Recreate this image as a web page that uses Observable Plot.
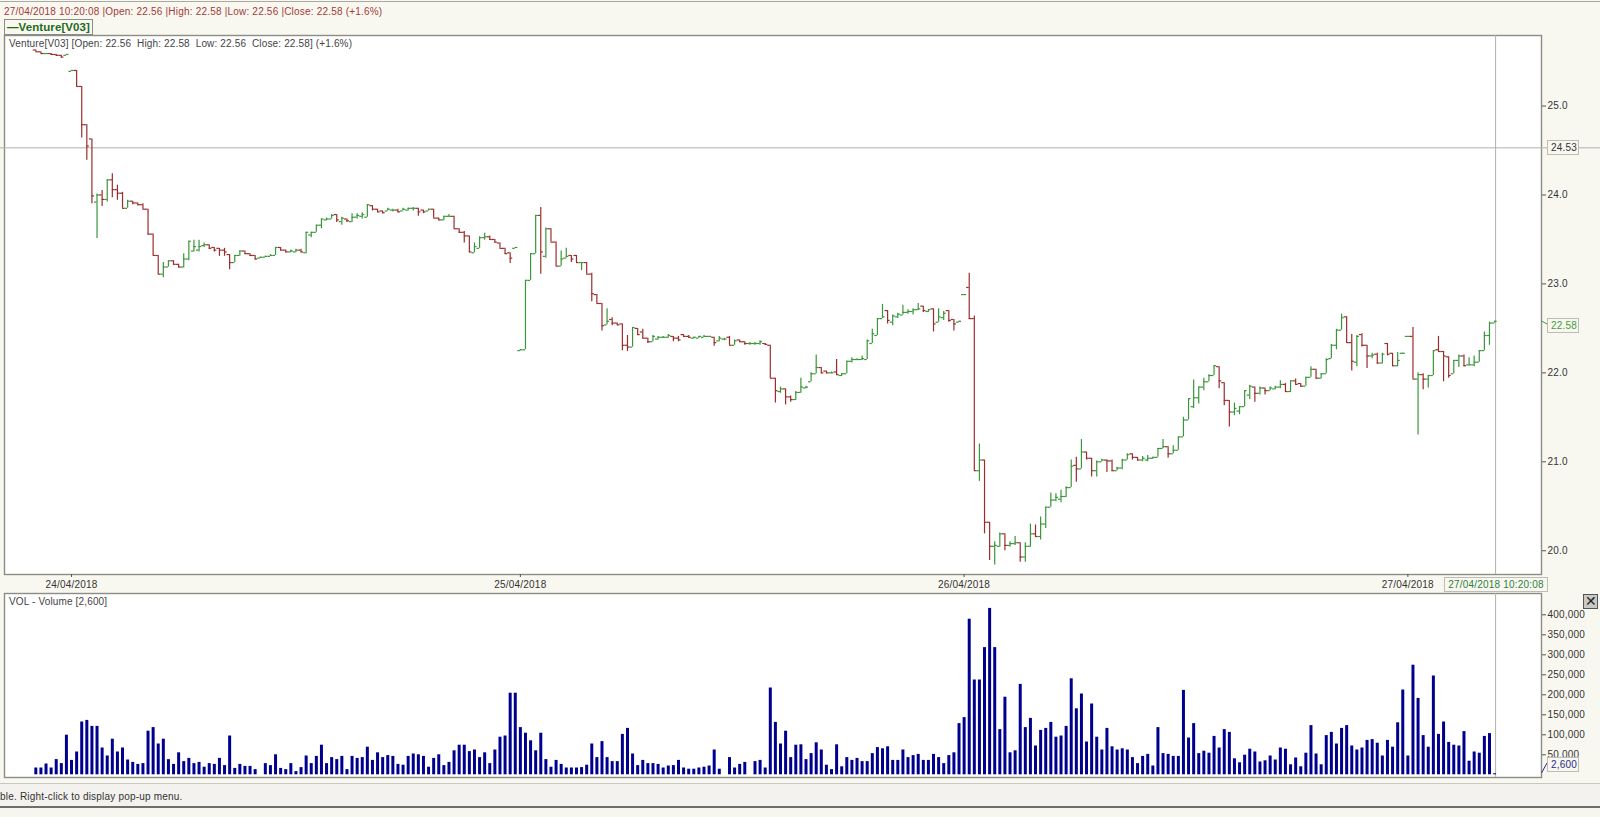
<!DOCTYPE html>
<html>
<head>
<meta charset="utf-8">
<script src="https://cdn.jsdelivr.net/npm/d3@7"></script>
<script src="https://cdn.jsdelivr.net/npm/@observablehq/plot@0.6"></script>
<style>
html,body{margin:0;padding:0;background:#f9f8f0;overflow:hidden}
#page{position:relative;width:1600px;height:817px;font-family:"Liberation Sans",Arial,sans-serif;font-size:10px;letter-spacing:.2px;color:#333}
#page>div{position:absolute;white-space:nowrap;line-height:13px}
.chart{overflow:visible}
.box{background:#f9f8f0;border:1px solid #bdbdb5;padding:0 3px;height:13px;text-align:center;box-sizing:content-box}
</style>
</head>
<body>
<div id="page">
  <div style="left:0;top:1px;width:1600px;height:0;border-top:1px solid #a9a9a1"></div>
  <div style="left:4px;top:5px;color:#a23a3a">27/04/2018 10:20:08 |Open: 22.56 |High: 22.58 |Low: 22.56 |Close: 22.58 (+1.6%)</div>
  <div style="left:4px;top:19px;width:87px;height:14px;border:1px solid #8d8d87;font-weight:bold;color:#1e6b1e;font-size:11.5px;line-height:14px;text-align:center;letter-spacing:.1px">—Venture[V03]</div>
  <div class="chart" id="price" style="left:0;top:35px"></div>
  <div class="chart" id="volume" style="left:0;top:593px"></div>
  <div style="left:9px;top:37px;letter-spacing:.15px;color:#444">Venture[V03] [Open: 22.56&nbsp; High: 22.58&nbsp; Low: 22.56&nbsp; Close: 22.58] (+1.6%)</div>
  <div style="left:9px;top:595px;letter-spacing:.15px;color:#444">VOL - Volume [2,600]</div>
  <svg style="position:absolute;left:0;top:0;pointer-events:none" width="1600" height="817">
    <line x1="1541.5" y1="321" x2="1547" y2="324" stroke="#3f9a3f"/>
    <line x1="1541.5" y1="773" x2="1547" y2="763" stroke="#2a2a8a"/>
  </svg>
  <div class="box" style="left:1547px;top:140px;width:24px;color:#333">24.53</div>
  <div class="box" style="left:1547px;top:318px;width:24px;color:#3f9a3f">22.58</div>
  <div class="box" style="left:1444px;top:577px;width:96px;color:#2f7f3f">27/04/2018 10:20:08</div>
  <div class="box" style="left:1547px;top:757px;width:24px;color:#2a2a8a">2,600</div>
  <div style="left:1583px;top:594px;width:13px;height:13px;background:#c9c9c5;border:1px solid #555;text-align:center;line-height:12px;font-size:14px;letter-spacing:0;color:#222">✕</div>
  <div style="left:0;top:783px;width:1600px;height:22px;background:#f3f2ee;border-top:1px solid #c8c8c2;border-bottom:2px solid #6e6e6a;line-height:25px;color:#333;overflow:hidden">ble. Right-click to display pop-up menu.</div>
  <div style="left:0;top:808px;width:1600px;height:9px;background:#f6f5ef"></div>
</div>
<script>
const highs = [
25.63,25.61,25.59,25.59,25.58,25.57,25.58,25.40,25.40,25.22,
24.79,24.63,24.01,24.05,24.17,24.24,24.11,24.03,23.94,23.93,
23.91,23.90,23.84,23.56,23.32,23.24,23.26,23.26,23.22,23.34,
23.48,23.49,23.49,23.46,23.44,23.41,23.40,23.40,23.33,23.32,
23.37,23.37,23.34,23.32,23.30,23.31,23.33,23.41,23.41,23.38,
23.38,23.39,23.39,23.58,23.58,23.66,23.73,23.74,23.78,23.78,
23.75,23.73,23.79,23.79,23.80,23.89,23.88,23.84,23.82,23.85,
23.84,23.84,
23.85,23.85,23.86,23.85,23.83,23.84,23.84,23.74,23.76,23.78,
23.76,23.62,23.59,23.54,23.46,23.53,23.57,23.54,23.50,23.46,
23.40,23.35,23.41,22.26,23.04,23.34,23.77,23.86,23.63,23.62,
23.47,23.37,23.40,23.32,23.32,23.24,23.24,23.12,22.88,22.78,
22.72,22.62,22.56,22.55,22.42,22.51,22.50,22.49,22.39,22.42,
22.41,22.41,22.43,22.41,22.41,22.43,22.42,22.40,22.41,22.42,
22.41,22.40,22.41,22.39,22.41,22.37,22.37,22.35,22.34,22.34,
22.36,22.33,22.31,21.94,21.84,21.82,21.74,21.79,
21.94,21.85,22.00,22.20,22.06,22.02,22.01,22.15,21.99,22.13,
22.17,22.16,22.19,22.37,22.49,22.61,22.77,22.70,22.65,22.67,
22.76,22.71,22.72,22.78,22.75,22.71,22.72,22.72,22.69,22.70,
22.60,22.58,22.88,23.12,22.64,21.20,21.02,20.32,20.10,20.20,
20.19,20.10,20.16,20.09,20.09,20.30,20.29,20.38,20.49,20.65,
20.64,20.68,20.72,21.02,21.05,21.25,21.11,21.04,21.01,21.03,
21.02,21.02,20.94,21.03,21.09,21.09,21.05,21.06,21.07,21.05,
21.15,21.25,21.17,21.18,21.28,21.50,21.71,21.92,21.84,21.94,
21.98,22.08,22.07,21.89,21.69,21.66,21.62,21.80,21.86,21.84,
21.84,21.83,21.84,21.85,21.91,21.88,21.91,21.93,21.88,21.95,
22.07,22.04,21.99,22.16,22.32,22.49,22.66,22.63,22.43,22.42,
22.44,22.31,22.22,22.22,22.22,22.33,22.22,22.23,22.22,22.41,
22.51,22.00,21.99,21.97,22.25,22.41,22.24,22.18,22.14,22.20,
22.20,22.17,22.19,22.25,22.46,22.57,22.58];
const lows = [
25.61,25.59,25.58,25.57,25.56,25.54,25.57,25.39,25.22,24.64,
24.39,23.90,23.51,23.87,23.92,23.97,23.94,23.85,23.85,23.89,
23.88,23.84,23.55,23.32,23.11,23.07,23.19,23.21,23.18,23.18,
23.26,23.36,23.36,23.41,23.39,23.36,23.31,23.31,23.16,23.24,
23.31,23.33,23.31,23.27,23.29,23.30,23.31,23.32,23.37,23.35,
23.35,23.35,23.35,23.34,23.52,23.58,23.62,23.71,23.73,23.69,
23.66,23.69,23.69,23.73,23.73,23.75,23.82,23.80,23.79,23.82,
23.81,23.80,
23.82,23.82,23.82,23.76,23.79,23.82,23.74,23.71,23.71,23.75,
23.62,23.57,23.46,23.35,23.35,23.40,23.49,23.49,23.46,23.40,
23.33,23.23,23.40,22.25,22.26,23.04,23.34,23.11,23.29,23.47,
23.20,23.20,23.29,23.24,23.24,23.15,23.11,22.80,22.78,22.47,
22.54,22.53,22.53,22.25,22.24,22.29,22.42,22.38,22.33,22.35,
22.37,22.39,22.39,22.35,22.35,22.40,22.39,22.38,22.39,22.40,
22.40,22.30,22.35,22.36,22.31,22.31,22.34,22.31,22.31,22.31,
22.31,22.31,21.94,21.66,21.77,21.64,21.67,21.69,
21.77,21.82,21.90,21.99,21.99,21.99,21.99,21.97,21.96,21.99,
22.11,22.14,22.14,22.15,22.33,22.42,22.61,22.55,22.53,22.61,
22.65,22.66,22.65,22.70,22.68,22.68,22.46,22.57,22.59,22.57,
22.47,22.57,22.87,22.60,20.90,20.78,20.19,19.89,19.84,20.04,
20.00,20.04,20.06,19.87,19.87,20.04,20.15,20.12,20.25,20.49,
20.55,20.54,20.60,20.71,20.77,20.92,21.02,20.83,20.83,21.00,
20.88,20.89,20.90,20.91,21.02,21.02,21.01,21.00,21.00,21.03,
21.05,21.15,21.04,21.09,21.13,21.28,21.47,21.60,21.65,21.80,
21.90,21.97,21.82,21.63,21.39,21.52,21.53,21.62,21.70,21.67,
21.75,21.75,21.80,21.81,21.82,21.78,21.78,21.86,21.84,21.85,
21.95,21.93,21.93,21.99,22.16,22.26,22.48,22.34,22.02,22.07,
22.29,22.05,22.16,22.10,22.10,22.19,22.07,22.07,22.21,22.40,
21.93,21.30,21.81,21.83,21.97,22.24,21.90,21.94,21.99,22.06,
22.07,22.08,22.07,22.12,22.25,22.31,22.56];
const opens = [
25.63,25.61,25.59,25.59,25.58,25.57,25.57,25.39,25.40,25.22,
24.79,24.63,23.92,24.00,23.95,24.17,24.06,24.02,23.85,23.93,
23.91,23.89,23.84,23.56,23.32,23.11,23.19,23.26,23.22,23.19,
23.28,23.37,23.38,23.43,23.44,23.41,23.40,23.38,23.33,23.24,
23.32,23.37,23.34,23.32,23.29,23.30,23.31,23.32,23.41,23.38,
23.36,23.36,23.38,23.35,23.55,23.58,23.66,23.72,23.73,23.78,
23.70,23.73,23.70,23.75,23.76,23.75,23.88,23.84,23.82,23.82,
23.83,23.83,
23.82,23.83,23.85,23.85,23.83,23.82,23.84,23.74,23.72,23.76,
23.76,23.62,23.58,23.54,23.35,23.40,23.52,23.53,23.50,23.46,
23.40,23.35,23.40,22.25,22.26,23.04,23.34,23.77,23.31,23.62,
23.47,23.20,23.29,23.32,23.32,23.24,23.24,23.11,22.88,22.78,
22.54,22.60,22.56,22.55,22.31,22.29,22.50,22.46,22.39,22.35,
22.38,22.40,22.40,22.41,22.39,22.43,22.41,22.39,22.39,22.40,
22.41,22.40,22.36,22.38,22.40,22.31,22.37,22.35,22.33,22.33,
22.33,22.33,22.31,21.94,21.79,21.82,21.73,21.70,
21.78,21.83,21.90,21.99,22.06,22.02,22.00,22.01,21.97,21.99,
22.13,22.15,22.15,22.15,22.33,22.42,22.61,22.70,22.57,22.63,
22.65,22.68,22.69,22.71,22.75,22.69,22.72,22.57,22.62,22.70,
22.60,22.57,22.88,22.96,22.61,20.90,21.02,20.32,20.05,20.05,
20.19,20.06,20.08,20.09,19.93,20.05,20.19,20.16,20.30,20.49,
20.57,20.58,20.61,20.71,20.96,20.92,21.11,21.04,20.90,21.00,
21.02,21.01,20.90,20.93,21.02,21.09,21.05,21.02,21.02,21.04,
21.05,21.15,21.17,21.09,21.13,21.28,21.47,21.62,21.72,21.84,
21.90,21.97,22.07,21.89,21.69,21.56,21.57,21.62,21.75,21.84,
21.77,21.83,21.80,21.82,21.84,21.87,21.79,21.91,21.88,21.85,
21.95,22.04,21.94,21.99,22.16,22.31,22.48,22.63,22.34,22.12,
22.43,22.31,22.19,22.21,22.11,22.33,22.22,22.08,22.22,22.41,
22.41,21.93,21.98,21.93,21.97,22.26,22.24,22.18,21.99,22.14,
22.19,22.09,22.09,22.12,22.25,22.42,22.56];
const closes = [
25.61,25.59,25.59,25.58,25.57,25.55,25.58,25.40,25.22,24.79,
24.55,23.99,24.00,23.95,24.17,24.06,24.02,23.85,23.93,23.91,
23.89,23.84,23.56,23.32,23.11,23.19,23.26,23.22,23.19,23.28,
23.48,23.42,23.42,23.44,23.40,23.38,23.38,23.36,23.24,23.32,
23.37,23.34,23.32,23.28,23.30,23.31,23.32,23.41,23.38,23.36,
23.37,23.38,23.36,23.58,23.58,23.66,23.73,23.73,23.77,23.72,
23.74,23.71,23.75,23.77,23.78,23.89,23.84,23.81,23.80,23.84,
23.83,23.81,
23.84,23.85,23.85,23.81,23.81,23.84,23.74,23.72,23.76,23.76,
23.62,23.58,23.54,23.36,23.42,23.52,23.53,23.50,23.47,23.40,
23.34,23.29,23.41,22.26,23.04,23.34,23.77,23.36,23.62,23.47,
23.20,23.28,23.31,23.28,23.24,23.24,23.11,22.89,22.78,22.53,
22.58,22.56,22.54,22.31,22.29,22.51,22.43,22.39,22.35,22.41,
22.40,22.40,22.42,22.39,22.37,22.41,22.40,22.40,22.41,22.41,
22.41,22.34,22.39,22.38,22.31,22.36,22.35,22.33,22.33,22.33,
22.35,22.32,21.94,21.80,21.82,21.73,21.70,21.78,
21.84,21.84,21.99,22.06,22.00,22.00,22.00,21.98,21.99,22.13,
22.15,22.15,22.16,22.36,22.44,22.61,22.63,22.59,22.64,22.66,
22.68,22.69,22.71,22.72,22.70,22.71,22.55,22.63,22.67,22.59,
22.55,22.58,22.88,22.61,20.90,21.02,20.32,20.05,20.06,20.19,
20.06,20.08,20.09,19.93,20.05,20.19,20.16,20.30,20.49,20.57,
20.60,20.61,20.71,20.95,20.92,21.11,21.04,20.90,21.00,21.02,
21.01,20.90,20.93,21.02,21.08,21.05,21.02,21.04,21.04,21.05,
21.15,21.17,21.09,21.13,21.28,21.47,21.71,21.72,21.84,21.90,
21.97,22.08,21.91,21.69,21.56,21.60,21.62,21.80,21.85,21.77,
21.83,21.80,21.83,21.84,21.87,21.79,21.91,21.87,21.85,21.95,
22.04,21.94,21.99,22.15,22.31,22.48,22.62,22.34,22.13,22.41,
22.31,22.19,22.20,22.11,22.21,22.21,22.08,22.14,22.22,22.41,
21.93,21.98,21.93,21.97,22.25,22.24,22.19,21.97,22.14,22.19,
22.08,22.09,22.12,22.25,22.42,22.56,22.58];
// Volume in thousands of shares; null = no trade in that slot
const volumesK = [
17,17,27,17,38,28,99,36,57,132,
136,121,121,67,47,89,57,67,37,31,
26,28,109,118,77,89,38,26,55,33,
41,28,31,19,28,26,41,23,97,16,
26,21,21,13,null,28,23,50,16,13,
28,8,18,47,28,46,74,28,43,38,
46,13,46,41,43,69,36,55,43,48,
46,26,
24,46,52,50,46,19,41,50,23,31,
60,74,74,58,62,43,55,28,62,94,
97,204,204,118,104,85,60,104,38,19,
36,26,17,17,17,18,24,77,43,83,
43,33,33,101,116,52,23,36,28,28,
26,17,22,23,36,17,14,14,17,19,
22,62,14,null,43,17,26,31,null,33,
36,17,217,131,77,109,43,74,
75,38,53,80,62,24,13,75,20,43,
36,41,33,33,53,68,65,70,36,36,
62,43,48,51,36,36,51,43,28,48,
55,128,143,389,237,237,318,416,318,113,
194,55,60,226,118,141,72,111,116,131,
94,97,121,240,165,202,82,177,94,62,
116,70,62,65,62,43,28,46,51,22,
118,53,51,46,46,211,92,128,53,
59,54,96,67,113,106,40,30,49,64,
57,32,35,47,37,67,64,25,42,20,
54,123,52,25,98,106,77,116,123,72,
62,67,86,88,79,47,86,69,130,212,
47,274,191,98,69,247,101,132,81,74,
72,108,34,57,54,96,103,2.6];
const dateSlots = [7, 95, 182, 269];
const dateLabels = ["24/04/2018", "25/04/2018", "26/04/2018", "27/04/2018"];
const priceTicks = [20, 21, 22, 23, 24, 25];
const volumeTicks = [50000, 100000, 150000, 200000, 250000, 300000, 350000, 400000];
const crossPrice = 24.53;
const crossSlot = 286.2;

const GREEN = "#3a963a", RED = "#9c2c2c", GRID = "#b0b0ac", FRAME = "#8c8c86", NAVY = "#00008f";
const font = {fontFamily: '"Liberation Sans",Arial,sans-serif', fontSize: "10px", background: "transparent", overflow: "visible", letterSpacing: ".2px"};
const xDomain = [-6.14, 295.2];

const bars = highs.map((h, i) => ({i, high: h, low: lows[i], open: opens[i], close: closes[i]}));
const col = d => d.close >= d.open ? GREEN : RED;

const price = Plot.plot({
  width: 1600, height: 558, style: font,
  marginLeft: 4, marginRight: 59, marginTop: 0, marginBottom: 19,
  x: {domain: xDomain, axis: null},
  y: {domain: [19.733, 25.793], axis: null},
  marks: [
    Plot.frame({fill: "white", stroke: FRAME, strokeWidth: 1.4}),
    Plot.ruleY([crossPrice], {x1: -7, x2: 308, stroke: GRID}),
    Plot.ruleX([crossSlot], {y1: 19.733, y2: 25.793, stroke: GRID}),
    Plot.ruleX(bars, {x: "i", y1: "low", y2: "high", stroke: col, strokeWidth: 1.2}),
    Plot.ruleY(bars, {y: "open", x1: d => d.i - .5, x2: "i", stroke: col, strokeWidth: 1.2}),
    Plot.ruleY(bars, {y: "close", x1: "i", x2: d => d.i + .5, stroke: col, strokeWidth: 1.2}),
    Plot.axisY(priceTicks, {anchor: "right", tickSize: 4, tickPadding: 2, tickFormat: d => d.toFixed(1), stroke: "#555", color: "#333", label: null}),
    Plot.axisX(dateSlots, {anchor: "bottom", tickSize: 3, tickPadding: 3, tickFormat: (d, k) => dateLabels[k], stroke: "#555", color: "#333", label: null})
  ]
});
document.getElementById("price").append(price);

const vols = volumesK.map((v, i) => ({i, volume: v == null ? null : v * 1000})).filter(d => d.volume != null);
const volume = Plot.plot({
  width: 1600, height: 184, style: font,
  marginLeft: 4, marginRight: 59, marginTop: 0, marginBottom: 0,
  x: {domain: xDomain, axis: null},
  y: {domain: [-6750, 453250], axis: null},
  marks: [
    Plot.frame({fill: "white", stroke: FRAME, strokeWidth: 1.4}),
    Plot.ruleX([crossSlot], {y1: -6750, y2: 453250, stroke: GRID}),
    Plot.ruleX(vols, {x: "i", y1: 0, y2: "volume", stroke: NAVY, strokeWidth: 3}),
    Plot.axisY(volumeTicks, {anchor: "right", tickSize: 4, tickPadding: 2, tickFormat: d => d.toLocaleString("en-US"), stroke: "#555", color: "#333", label: null})
  ]
});
document.getElementById("volume").append(volume);
</script>
</body>
</html>
